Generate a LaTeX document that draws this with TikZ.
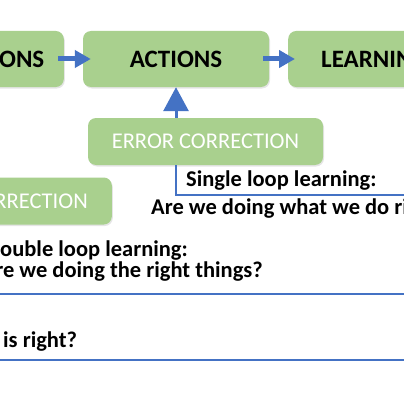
\documentclass[tikz,border=0pt]{standalone}
\usepackage{fontspec}
\setmainfont{Carlito}
\usetikzlibrary{positioning, arrows.meta, shadows}
\definecolor{boxgreen}{RGB}{169, 208, 142}
\definecolor{loopblue}{RGB}{68, 114, 196}

\tikzset{
  stagebox/.style={fill=boxgreen, rounded corners=8pt, minimum width=186pt, minimum height=56pt,
    drop shadow={opacity=0.2, shadow xshift=1pt, shadow yshift=-1.5pt},
    font=\fontsize{25}{30}\selectfont\bfseries},
  fixbox/.style={fill=boxgreen, rounded corners=8pt, minimum width=235pt, minimum height=47pt,
    drop shadow={opacity=0.2, shadow xshift=1pt, shadow yshift=-1.5pt},
    text=white, font=\fontsize{22.5}{27}\selectfont},
  flowarrow/.style={loopblue, line width=5pt, -{Triangle[length=16pt, width=17pt]}},
  loopline/.style={loopblue, line width=2.5pt},
  looptext/.style={inner sep=0pt, font=\fontsize{22.5}{27}\selectfont\bfseries}
}

\begin{document}
\begin{tikzpicture}[x=1pt, y=-1pt]
  \useasboundingbox (0,0) rectangle (404,404);
  \clip (0,0) rectangle (404,404);
  \fill[white] (0,0) rectangle (404,404);

  % stages
  \node[stagebox, anchor=east, inner xsep=19.5pt, text width=147pt, align=right] (assump) at (64,59) {ONS};
  \node[stagebox] (actions) at (176,59) {ACTIONS};
  \node[stagebox, anchor=west, inner xsep=33pt, text width=120pt, align=left] (learn) at (288,59) {LEARNIN};

  % correction boxes
  \node[fixbox] (errfix) at (205.5,141.5) {ERROR CORRECTION};
  \node[fixbox, anchor=east, inner xsep=24pt, text width=187pt, align=right] (errfix2) at (112,201) {RRECTION};

  \draw[flowarrow, shorten <=-6pt, shorten >=-8pt] (assump) -- (actions);
  \draw[flowarrow, shorten <=-6pt, shorten >=-7pt] (actions) -- (learn);
  \draw[loopblue, line width=3pt, -{Triangle[length=24pt, width=25pt]}] (errfix.north -| actions.south) -- (actions.south);

  % single loop
  \coordinate (singlebend) at (176,195);
  \coordinate (singleend) at (414,195);
  \draw[loopline] (errfix.south -| singlebend) -- (singlebend) -- (singleend);
  \node[looptext, anchor=south west] (singlehead) at (186,191) {Single loop learning:};
  \node[looptext, anchor=west] (singleask) at (151,209) {Are we doing what we do ri};

  % double loop
  \coordinate (doublestart) at (-10,294);
  \coordinate (doubleend) at (414,294);
  \draw[loopline] (doublestart) -- (doubleend);
  \node[looptext, anchor=west] (doublehead) at (0,251) {ouble loop learning:};
  \node[looptext, anchor=east] (doubleask) at (263,272) {re we doing the right things?};

  % triple loop
  \coordinate (triplestart) at (-10,360);
  \coordinate (tripleend) at (414,360);
  \draw[loopline] (triplestart) -- (tripleend);
  \node[looptext, anchor=west] (tripleask) at (3,342) {is right?};
\end{tikzpicture}
\end{document}
